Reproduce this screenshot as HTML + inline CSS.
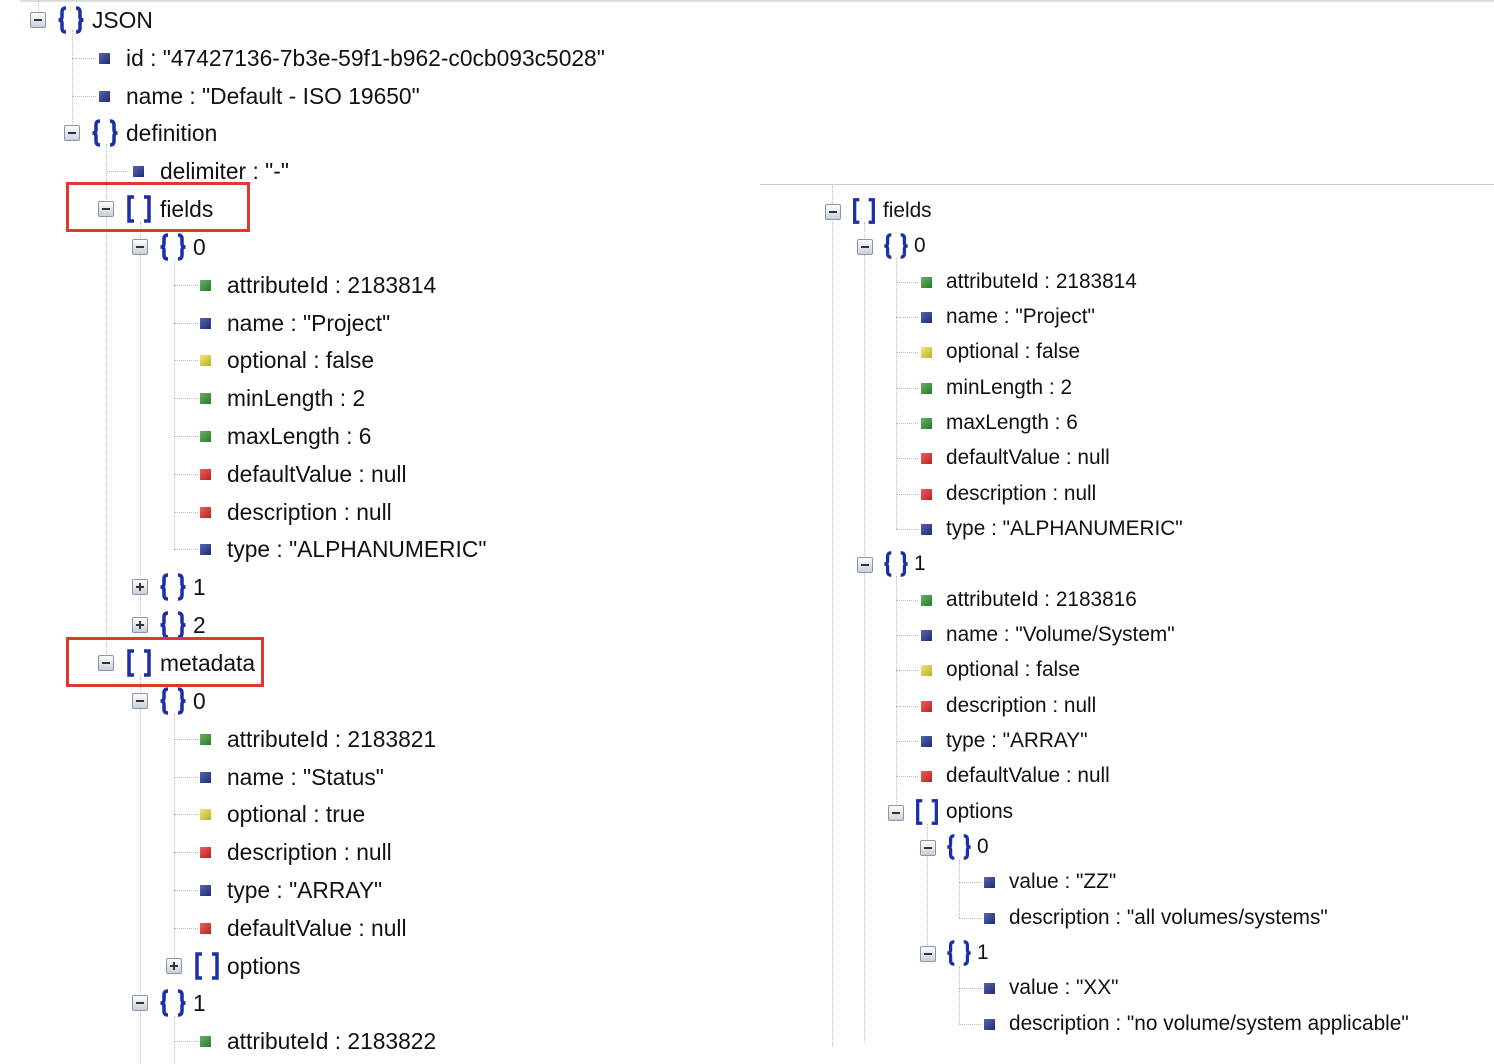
<!DOCTYPE html>
<html><head><meta charset="utf-8"><style>
html,body{margin:0;padding:0;background:#fff;}
body{width:1494px;height:1064px;position:relative;overflow:hidden;font-family:"Liberation Sans",Arial,sans-serif;color:#111;}
.t{position:absolute;width:14px;height:14px;border:1px solid #8a95a8;border-radius:2px;background:linear-gradient(#fdfdfd,#c9d0da);box-sizing:content-box;}
.t:before{content:"";position:absolute;left:3px;top:6px;width:8px;height:2px;background:#333;}
.t.p:after{content:"";position:absolute;left:6px;top:3px;width:2px;height:8px;background:#333;}
svg.b{position:absolute;width:30px;height:30px;}
svg.b.r{width:28px;height:28px;}
svg.b path{fill:none;stroke:#1b2fa6;stroke-width:3.5;}
.s{position:absolute;width:11px;height:11px;}
.B{background:linear-gradient(135deg,#5866b0,#1e2a78);}
.G{background:linear-gradient(135deg,#66b266,#2a7a2a);}
.Y{background:linear-gradient(135deg,#eee880,#b8b020);}
.R{background:linear-gradient(135deg,#ee6060,#b82020);}
.x{position:absolute;font-size:22.8px;line-height:26px;white-space:nowrap;}
.x.r{font-size:20.8px;line-height:24px;}
.v{position:absolute;width:0;border-left:1px dotted #bbb;}
.h{position:absolute;height:0;border-top:1px dotted #bbb;}
.box{position:absolute;border:3px solid #e0392b;}
</style></head><body>
<div style="position:absolute;left:20px;top:0;width:1474px;height:2px;background:#ddd"></div>
<div style="position:absolute;left:760px;top:184px;width:734px;height:1px;background:#ccc"></div>

<div class="v" style="left:38px;top:0;height:12px"></div>
<div class="v" style="left:72px;top:30px;height:96px"></div>
<div class="v" style="left:106px;top:144px;height:512px"></div>
<div class="v" style="left:140px;top:222px;height:396px"></div>
<div class="v" style="left:174px;top:260px;height:289px"></div>
<div class="v" style="left:140px;top:676px;height:388px"></div>
<div class="v" style="left:174px;top:714px;height:252px"></div>
<div class="v" style="left:174px;top:1016px;height:48px"></div>
<div class="h" style="left:72px;top:58px;width:24px"></div>
<div class="h" style="left:72px;top:96px;width:24px"></div>
<div class="h" style="left:106px;top:171px;width:24px"></div>
<div class="h" style="left:174px;top:285px;width:24px"></div>
<div class="h" style="left:174px;top:323px;width:24px"></div>
<div class="h" style="left:174px;top:360px;width:24px"></div>
<div class="h" style="left:174px;top:398px;width:24px"></div>
<div class="h" style="left:174px;top:436px;width:24px"></div>
<div class="h" style="left:174px;top:474px;width:24px"></div>
<div class="h" style="left:174px;top:512px;width:24px"></div>
<div class="h" style="left:174px;top:549px;width:24px"></div>
<div class="h" style="left:174px;top:739px;width:24px"></div>
<div class="h" style="left:174px;top:777px;width:24px"></div>
<div class="h" style="left:174px;top:814px;width:24px"></div>
<div class="h" style="left:174px;top:852px;width:24px"></div>
<div class="h" style="left:174px;top:890px;width:24px"></div>
<div class="h" style="left:174px;top:928px;width:24px"></div>
<div class="h" style="left:174px;top:1041px;width:24px"></div>

<i class="t" style="left:30px;top:12px"></i><svg class="b" viewBox="0 0 30 30" style="left:56px;top:5px"><path d="M10 3Q6 3 6 7V12Q6 15 2.5 15Q6 15 6 18V23Q6 27 10 27M20 3Q24 3 24 7V12Q24 15 27.5 15Q24 15 24 18V23Q24 27 20 27"/></svg><span class="x" style="left:92px;top:7px">JSON</span>
<i class="s B" style="left:99px;top:53px"></i><span class="x" style="left:126px;top:45px">id : "47427136-7b3e-59f1-b962-c0cb093c5028"</span>
<i class="s B" style="left:99px;top:91px"></i><span class="x" style="left:126px;top:83px">name : "Default - ISO 19650"</span>
<i class="t" style="left:64px;top:125px"></i><svg class="b" viewBox="0 0 30 30" style="left:90px;top:118px"><path d="M10 3Q6 3 6 7V12Q6 15 2.5 15Q6 15 6 18V23Q6 27 10 27M20 3Q24 3 24 7V12Q24 15 27.5 15Q24 15 24 18V23Q24 27 20 27"/></svg><span class="x" style="left:126px;top:120px">definition</span>
<i class="s B" style="left:133px;top:166px"></i><span class="x" style="left:160px;top:158px">delimiter : "-"</span>
<i class="t" style="left:98px;top:201px"></i><svg class="b" viewBox="0 0 30 30" style="left:124px;top:194px"><path d="M10 3H5V27H10M20 3H25V27H20"/></svg><span class="x" style="left:160px;top:196px">fields</span>
<i class="t" style="left:132px;top:239px"></i><svg class="b" viewBox="0 0 30 30" style="left:158px;top:232px"><path d="M10 3Q6 3 6 7V12Q6 15 2.5 15Q6 15 6 18V23Q6 27 10 27M20 3Q24 3 24 7V12Q24 15 27.5 15Q24 15 24 18V23Q24 27 20 27"/></svg><span class="x" style="left:193px;top:234px">0</span>
<i class="s G" style="left:200px;top:280px"></i><span class="x" style="left:227px;top:272px">attributeId : 2183814</span>
<i class="s B" style="left:200px;top:318px"></i><span class="x" style="left:227px;top:310px">name : "Project"</span>
<i class="s Y" style="left:200px;top:355px"></i><span class="x" style="left:227px;top:347px">optional : false</span>
<i class="s G" style="left:200px;top:393px"></i><span class="x" style="left:227px;top:385px">minLength : 2</span>
<i class="s G" style="left:200px;top:431px"></i><span class="x" style="left:227px;top:423px">maxLength : 6</span>
<i class="s R" style="left:200px;top:469px"></i><span class="x" style="left:227px;top:461px">defaultValue : null</span>
<i class="s R" style="left:200px;top:507px"></i><span class="x" style="left:227px;top:499px">description : null</span>
<i class="s B" style="left:200px;top:544px"></i><span class="x" style="left:227px;top:536px">type : "ALPHANUMERIC"</span>
<i class="t p" style="left:132px;top:579px"></i><svg class="b" viewBox="0 0 30 30" style="left:158px;top:572px"><path d="M10 3Q6 3 6 7V12Q6 15 2.5 15Q6 15 6 18V23Q6 27 10 27M20 3Q24 3 24 7V12Q24 15 27.5 15Q24 15 24 18V23Q24 27 20 27"/></svg><span class="x" style="left:193px;top:574px">1</span>
<i class="t p" style="left:132px;top:617px"></i><svg class="b" viewBox="0 0 30 30" style="left:158px;top:610px"><path d="M10 3Q6 3 6 7V12Q6 15 2.5 15Q6 15 6 18V23Q6 27 10 27M20 3Q24 3 24 7V12Q24 15 27.5 15Q24 15 24 18V23Q24 27 20 27"/></svg><span class="x" style="left:193px;top:612px">2</span>
<i class="t" style="left:98px;top:655px"></i><svg class="b" viewBox="0 0 30 30" style="left:124px;top:648px"><path d="M10 3H5V27H10M20 3H25V27H20"/></svg><span class="x" style="left:160px;top:650px">metadata</span>
<i class="t" style="left:132px;top:693px"></i><svg class="b" viewBox="0 0 30 30" style="left:158px;top:686px"><path d="M10 3Q6 3 6 7V12Q6 15 2.5 15Q6 15 6 18V23Q6 27 10 27M20 3Q24 3 24 7V12Q24 15 27.5 15Q24 15 24 18V23Q24 27 20 27"/></svg><span class="x" style="left:193px;top:688px">0</span>
<i class="s G" style="left:200px;top:734px"></i><span class="x" style="left:227px;top:726px">attributeId : 2183821</span>
<i class="s B" style="left:200px;top:772px"></i><span class="x" style="left:227px;top:764px">name : "Status"</span>
<i class="s Y" style="left:200px;top:809px"></i><span class="x" style="left:227px;top:801px">optional : true</span>
<i class="s R" style="left:200px;top:847px"></i><span class="x" style="left:227px;top:839px">description : null</span>
<i class="s B" style="left:200px;top:885px"></i><span class="x" style="left:227px;top:877px">type : "ARRAY"</span>
<i class="s R" style="left:200px;top:923px"></i><span class="x" style="left:227px;top:915px">defaultValue : null</span>
<i class="t p" style="left:166px;top:958px"></i><svg class="b" viewBox="0 0 30 30" style="left:192px;top:951px"><path d="M10 3H5V27H10M20 3H25V27H20"/></svg><span class="x" style="left:227px;top:953px">options</span>
<i class="t" style="left:132px;top:995px"></i><svg class="b" viewBox="0 0 30 30" style="left:158px;top:988px"><path d="M10 3Q6 3 6 7V12Q6 15 2.5 15Q6 15 6 18V23Q6 27 10 27M20 3Q24 3 24 7V12Q24 15 27.5 15Q24 15 24 18V23Q24 27 20 27"/></svg><span class="x" style="left:193px;top:990px">1</span>
<i class="s G" style="left:200px;top:1036px"></i><span class="x" style="left:227px;top:1028px">attributeId : 2183822</span>

<div class="box" style="left:66px;top:182px;width:178px;height:44px"></div>
<div class="box" style="left:66px;top:637px;width:192px;height:44px"></div>

<div class="v" style="left:832px;top:186px;height:860px"></div>
<div class="v" style="left:864px;top:222px;height:820px"></div>
<div class="v" style="left:896px;top:258px;height:271px"></div>
<div class="v" style="left:896px;top:576px;height:236px"></div>
<div class="v" style="left:927px;top:824px;height:129px"></div>
<div class="v" style="left:959px;top:860px;height:58px"></div>
<div class="v" style="left:959px;top:966px;height:58px"></div>
<div class="h" style="left:896px;top:282px;width:22px"></div>
<div class="h" style="left:896px;top:317px;width:22px"></div>
<div class="h" style="left:896px;top:352px;width:22px"></div>
<div class="h" style="left:896px;top:388px;width:22px"></div>
<div class="h" style="left:896px;top:423px;width:22px"></div>
<div class="h" style="left:896px;top:458px;width:22px"></div>
<div class="h" style="left:896px;top:494px;width:22px"></div>
<div class="h" style="left:896px;top:529px;width:22px"></div>
<div class="h" style="left:896px;top:600px;width:22px"></div>
<div class="h" style="left:896px;top:635px;width:22px"></div>
<div class="h" style="left:896px;top:670px;width:22px"></div>
<div class="h" style="left:896px;top:706px;width:22px"></div>
<div class="h" style="left:896px;top:741px;width:22px"></div>
<div class="h" style="left:896px;top:776px;width:22px"></div>
<div class="h" style="left:959px;top:882px;width:22px"></div>
<div class="h" style="left:959px;top:918px;width:22px"></div>
<div class="h" style="left:959px;top:988px;width:22px"></div>
<div class="h" style="left:959px;top:1024px;width:22px"></div>

<i class="t" style="left:825px;top:204px"></i><svg class="b r" viewBox="0 0 30 30" style="left:850px;top:197px"><path d="M10 3H5V27H10M20 3H25V27H20"/></svg><span class="x r" style="left:883px;top:199px">fields</span>
<i class="t" style="left:857px;top:239px"></i><svg class="b r" viewBox="0 0 30 30" style="left:882px;top:232px"><path d="M10 3Q6 3 6 7V12Q6 15 2.5 15Q6 15 6 18V23Q6 27 10 27M20 3Q24 3 24 7V12Q24 15 27.5 15Q24 15 24 18V23Q24 27 20 27"/></svg><span class="x r" style="left:914px;top:234px">0</span>
<i class="s G" style="left:921px;top:277px"></i><span class="x r" style="left:946px;top:270px">attributeId : 2183814</span>
<i class="s B" style="left:921px;top:312px"></i><span class="x r" style="left:946px;top:305px">name : "Project"</span>
<i class="s Y" style="left:921px;top:347px"></i><span class="x r" style="left:946px;top:340px">optional : false</span>
<i class="s G" style="left:921px;top:383px"></i><span class="x r" style="left:946px;top:376px">minLength : 2</span>
<i class="s G" style="left:921px;top:418px"></i><span class="x r" style="left:946px;top:411px">maxLength : 6</span>
<i class="s R" style="left:921px;top:453px"></i><span class="x r" style="left:946px;top:446px">defaultValue : null</span>
<i class="s R" style="left:921px;top:489px"></i><span class="x r" style="left:946px;top:482px">description : null</span>
<i class="s B" style="left:921px;top:524px"></i><span class="x r" style="left:946px;top:517px">type : "ALPHANUMERIC"</span>
<i class="t" style="left:857px;top:557px"></i><svg class="b r" viewBox="0 0 30 30" style="left:882px;top:550px"><path d="M10 3Q6 3 6 7V12Q6 15 2.5 15Q6 15 6 18V23Q6 27 10 27M20 3Q24 3 24 7V12Q24 15 27.5 15Q24 15 24 18V23Q24 27 20 27"/></svg><span class="x r" style="left:914px;top:552px">1</span>
<i class="s G" style="left:921px;top:595px"></i><span class="x r" style="left:946px;top:588px">attributeId : 2183816</span>
<i class="s B" style="left:921px;top:630px"></i><span class="x r" style="left:946px;top:623px">name : "Volume/System"</span>
<i class="s Y" style="left:921px;top:665px"></i><span class="x r" style="left:946px;top:658px">optional : false</span>
<i class="s R" style="left:921px;top:701px"></i><span class="x r" style="left:946px;top:694px">description : null</span>
<i class="s B" style="left:921px;top:736px"></i><span class="x r" style="left:946px;top:729px">type : "ARRAY"</span>
<i class="s R" style="left:921px;top:771px"></i><span class="x r" style="left:946px;top:764px">defaultValue : null</span>
<i class="t" style="left:888px;top:805px"></i><svg class="b r" viewBox="0 0 30 30" style="left:913px;top:798px"><path d="M10 3H5V27H10M20 3H25V27H20"/></svg><span class="x r" style="left:946px;top:800px">options</span>
<i class="t" style="left:920px;top:840px"></i><svg class="b r" viewBox="0 0 30 30" style="left:945px;top:833px"><path d="M10 3Q6 3 6 7V12Q6 15 2.5 15Q6 15 6 18V23Q6 27 10 27M20 3Q24 3 24 7V12Q24 15 27.5 15Q24 15 24 18V23Q24 27 20 27"/></svg><span class="x r" style="left:977px;top:835px">0</span>
<i class="s B" style="left:984px;top:877px"></i><span class="x r" style="left:1009px;top:870px">value : "ZZ"</span>
<i class="s B" style="left:984px;top:913px"></i><span class="x r" style="left:1009px;top:906px">description : "all volumes/systems"</span>
<i class="t" style="left:920px;top:946px"></i><svg class="b r" viewBox="0 0 30 30" style="left:945px;top:939px"><path d="M10 3Q6 3 6 7V12Q6 15 2.5 15Q6 15 6 18V23Q6 27 10 27M20 3Q24 3 24 7V12Q24 15 27.5 15Q24 15 24 18V23Q24 27 20 27"/></svg><span class="x r" style="left:977px;top:941px">1</span>
<i class="s B" style="left:984px;top:983px"></i><span class="x r" style="left:1009px;top:976px">value : "XX"</span>
<i class="s B" style="left:984px;top:1019px"></i><span class="x r" style="left:1009px;top:1012px">description : "no volume/system applicable"</span>
</body></html>
